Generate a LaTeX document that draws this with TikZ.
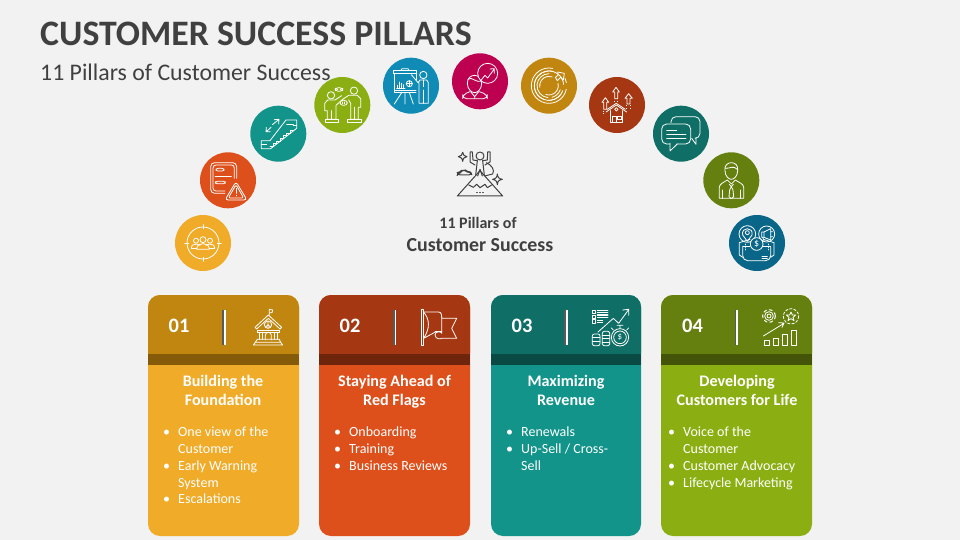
\documentclass[tikz,border=0pt]{standalone}
\usepackage{fontspec}
\setmainfont{Carlito}
\definecolor{bg}{HTML}{F2F2F2}
\definecolor{ink}{HTML}{404040}
\definecolor{cA}{HTML}{F0AB28}\definecolor{cAd}{HTML}{C0860F}\definecolor{cAb}{HTML}{855A08}
\definecolor{cB}{HTML}{DD4F1B}\definecolor{cBd}{HTML}{A53712}\definecolor{cBb}{HTML}{6E250C}
\definecolor{cC}{HTML}{12948A}\definecolor{cCd}{HTML}{0F6E66}\definecolor{cCb}{HTML}{0A4A45}
\definecolor{cD}{HTML}{8BAF12}\definecolor{cDd}{HTML}{66800F}\definecolor{cDb}{HTML}{44550A}
\definecolor{cE}{HTML}{108BB5}\definecolor{cF}{HTML}{BE0050}\definecolor{cK}{HTML}{0A6688}
\tikzset{
 disc/.style={circle,minimum size=56pt,inner sep=0pt,fill=#1},
 il/.style={draw=white,line width=0.8pt,line join=round,line cap=round},
 dl/.style={draw=ink,line width=1pt,line join=round,line cap=round},
 za/.style={shift={(160,50)},scale=1/3},
 zb/.style={shift={(440,50)},scale=1/3},
 zc/.style={shift={(140,290)},scale=1/3},
 zd/.style={shift={(480,290)},scale=1/3},
 head/.style={text=white,font=\fontsize{16.1}{16}\selectfont\bfseries,anchor=base,inner sep=0pt},
 num/.style={text=white,font=\fontsize{20.5}{20}\selectfont\bfseries,anchor=center,inner sep=0pt},
 bl/.style={text=white,font=\fontsize{14}{14}\selectfont,anchor=base west,inner sep=0pt},
}
\newcommand{\pillarcard}[7]{% name, x0, x1, light, dark, band, divider x
 \fill[#4,rounded corners=12pt] (#2,295) rectangle (#3,536);
 \fill[#5,rounded corners=12pt] (#2,365) -- (#2,295) -- (#3,295) -- (#3,365) -- cycle;
 \fill[#6] (#2,354) rectangle (#3,365);
 \fill[#4] (#2,365) rectangle (#3,380);
 \fill[black!65] (#7-1.6,310) rectangle (#7,345);
 \fill[white] (#7,310) rectangle (#7+1.6,345);
}
\begin{document}
\begin{tikzpicture}[x=1pt,y=-1pt]
\useasboundingbox (0,0) rectangle (960,540);
\fill[bg] (0,0) rectangle (960,540);
\node[anchor=base west,inner sep=0pt,text=ink,font=\fontsize{35.8}{36}\selectfont\bfseries] (title) at (40,46) {CUSTOMER SUCCESS PILLARS};
\node[anchor=base west,inner sep=0pt,text=ink,font=\fontsize{23.8}{24}\selectfont] (sub) at (40,80.5) {11 Pillars of Customer Success};
% discs
\node[disc=cA] (p1) at (203,243) {};
\node[disc=cB] (p2) at (228,180.3) {};
\node[disc=cC] (p3) at (278.3,133.7) {};
\node[disc=cD] (p4) at (342.3,105) {};
\node[disc=cE] (p5) at (411,85.7) {};
\node[disc=cF] (p6) at (480,81.3) {};
\node[disc=cAd] (p7) at (549,85.7) {};
\node[disc=cBd] (p8) at (617,105) {};
\node[disc=cCd] (p9) at (681,133.7) {};
\node[disc=cDd] (p10) at (731.3,180.3) {};
\node[disc=cK] (p11) at (757,243) {};
% icon 1
\begin{scope}[za,il]
 \draw (129,579) circle (48);
 \draw (129,524)--(129,536) (129,622)--(129,634) (74,579)--(86,579) (172,579)--(184,579);
 \draw (108,572) circle (7.5) (150,572) circle (7.5) (129,569) circle (9);
 \draw (94,596) .. controls (94,584) and (102,582) .. (110,582) .. controls (116,582) and (118,584) .. (120,586);
 \draw (164,596) .. controls (164,584) and (156,582) .. (148,582) .. controls (142,582) and (140,584) .. (138,586);
 \draw (94,596)--(110,596) (164,596)--(148,596);
 \draw (110,598) .. controls (110,585) and (120,581) .. (129,581) .. controls (138,581) and (148,585) .. (148,598) -- cycle;
\end{scope}
% icon 2
\begin{scope}[za,il]
 \draw[rounded corners=4pt] (195,430)--(152,430)--(152,338)--(230,338)--(230,385);
 \draw[rounded corners=3pt] (195,423)--(159,423)--(159,345)--(223,345)--(223,385);
 \draw[rounded corners=2pt] (168,355) rectangle (192,363);
 \draw (165,380)--(214,380);
 \draw[rounded corners=2pt] (166,394) rectangle (196,401);
 \draw[rounded corners=3pt] (228,395)--(261,450)--(195,450)--cycle;
 \draw[rounded corners=2pt] (228,404)--(251,444)--(205,444)--cycle;
 \draw (228,415)--(228,430) (228,436)--(228,438);
\end{scope}
% icon 3
\begin{scope}[za,il]
 \draw (304,272)--(304,296)--(332,296)--(410,235)--(410,210)--(378,210)--(330,272)--cycle;
 \draw (304,284)--(320,284) (400,225)--(410,225) (380,222)--(400,222);
 \draw (330,288)--(340,288)--(340,281)--(350,281)--(350,273)--(360,273)--(360,265)--(370,265)--(370,257)--(380,257)--(380,249)--(390,249)--(390,240)--(400,240);
 \draw (337,224)--(356,209) (343,209)--(357,208)--(356,222);
 \draw (319,245)--(333,232) (319,232)--(318,245)--(331,245);
\end{scope}
% icon 4
\begin{scope}[za,il]
 \draw (513,136) circle (11) (582,122) circle (11);
 \draw (545,137)--(525,150)--(503,150)--(494,160)--(494,182)--(502,182)--(502,208)--(528,208)--(528,166)--(548,148)--(566,136)--(592,136)--(602,146)--(602,172)--(595,172)--(595,208)--(572,208)--(572,160)--(566,150);
 \draw (515,182)--(515,208) (583,172)--(583,208);
 \draw (496,208) rectangle (534,217) (562,208) rectangle (604,217);
 \draw[rounded corners=3pt] (526,113) rectangle (548,124);
 \draw (531,118)--(533,118) (541,118)--(543,118);
 \draw[rounded corners=3pt] (540,151) rectangle (562,166);
 \draw (548,156)--(548,161) (554,156)--(554,161);
\end{scope}
% icon 5
\begin{scope}[za,il]
 \draw (700,62) rectangle (768,70);
 \draw (722,62)--(726,56)--(744,56)--(748,62);
 \draw (704,70)--(704,128)--(768,128);
 \draw (768,70)--(768,90);
 \draw (704,122)--(768,122);
 \draw (712,106)--(712,116) (718,96)--(718,116) (724,100)--(724,116) (730,104)--(730,116);
 \draw (710,116)--(735,116);
 \draw (748,101) circle (9);
 \draw (748,92)--(748,110) (739,101)--(757,101);
 \draw (725,128)--(703,162) (735,128)--(735,162) (748,128)--(760,162);
 \draw (790,75) circle (11);
 \draw (754,74)--(774,98)--(777,98)--(777,160)--(805,160)--(805,98)--(800,90)--(780,90)--(774,98);
 \draw (791,90)--(791,110) (791,120)--(791,160);
\end{scope}
% icon 6
\begin{scope}[zb,il]
 \draw (82,100) .. controls (82,68) and (125,68) .. (125,100) .. controls (125,118) and (112,128) .. (104,128) .. controls (95,128) and (82,118) .. (82,100) -- cycle;
 \draw (84,88) .. controls (95,78) and (105,98) .. (124,94);
 \draw[rounded corners=4pt] (90,125)--(68,134)--(68,146)--(142,146)--(142,134)--(118,125);
 \draw (92,125)--(104,140)--(116,125) (104,140)--(104,146);
 \draw[fill=cF] (143,70) circle (30);
 \draw (122,92)--(135,76)--(143,84)--(162,58) (150,57)--(163,56)--(163,70);
\end{scope}
% icon 7
\begin{scope}[zb,il]
 \draw (327,107) ++(12:53) arc[start angle=12,end angle=282,radius=53];
 \draw (327,107) ++(35:44) arc[start angle=35,end angle=95,radius=44];
 \draw (327,107) ++(110:44) arc[start angle=110,end angle=285,radius=44];
 \draw (327,107) ++(20:36) arc[start angle=20,end angle=75,radius=36];
 \draw (327,107) ++(95:36) arc[start angle=95,end angle=270,radius=36];
 \draw (327,107) ++(-15:28) arc[start angle=-15,end angle=110,radius=28];
 \draw (327,107) ++(170:28) arc[start angle=170,end angle=290,radius=28];
 \draw (327,107) ++(350:53) arc[start angle=350,end angle=335,radius=53];
 \draw (327,107) ++(355:44) arc[start angle=355,end angle=20,radius=44];
 \draw (353,66)--(373,70)--(370,90)--(362,82)--(352,92)--(346,82)--(354,76)--cycle;
\end{scope}
% icon 8
\begin{scope}[zb,il]
 \draw (498,186)--(529,165)--(560,186);
 \draw (502,178)--(529,160)--(556,178);
 \draw (510,182)--(510,216)--(548,216)--(548,182);
 \draw (529,178) circle (5);
 \draw (518,200) rectangle (528,216) (533,198) rectangle (544,208);
 \draw (528,112)--(518,126)--(524,126)--(524,146)--(533,146)--(533,126)--(538,126)--cycle;
 \draw (496,143)--(486,157)--(491,157)--(491,178)--(500,178)--(500,157)--(506,157)--cycle;
 \draw (566,131)--(555,145)--(561,145)--(561,162)--(570,162)--(570,145)--(577,145)--cycle;
 \draw[dotted,line cap=butt] (491,182)--(491,198) (523,152)--(523,160) (533,152)--(533,158) (558,165)--(558,180) (570,166)--(570,182);
\end{scope}
% icon 9
\begin{scope}[zb,il]
 \draw[rounded corners=5pt] (693,218)--(693,200)--(780,200)--(780,265)--(768,265);
 \draw (755,265)--(768,283)--(768,265);
 \draw[rounded corners=5pt] (690,282)--(665,282)--(665,222)--(752,222)--(752,282)--(710,282);
 \draw (690,280)--(690,303)--(712,282);
 \draw (680,240)--(710,240) (680,253)--(738,253) (680,266)--(738,266);
\end{scope}
% icon 10
\begin{scope}[zb,il]
 \draw (855,362) .. controls (850,330) and (898,330) .. (893,362) .. controls (893,378) and (882,388) .. (874,388) .. controls (866,388) and (855,378) .. (855,362) -- cycle;
 \draw (856,355) .. controls (870,356) and (880,345) .. (892,358);
 \draw (838,445)--(838,412) .. controls (838,402) and (850,398) .. (862,390)--(874,402)--(886,390) .. controls (898,398) and (911,402) .. (911,412)--(911,445)--cycle;
 \draw (848,445)--(848,420) (901,445)--(901,420);
 \draw (868,403)--(874,410)--(880,403) (869,420)--(874,410)--(879,420)--(881,440)--(874,446)--(867,440)--(869,420);
\end{scope}
% icon 11
\begin{scope}[zb,il]
 \draw (922,552) circle (25) (980,552) circle (24);
 \draw (922,574)--(908,555) .. controls (902,530) and (942,530) .. (936,555) -- cycle;
 \draw (922,548) circle (6);
 \draw (965,546) rectangle (972,562) (972,546)--(992,536)--(992,570)--(972,562);
 \draw (992,545)--(998,545) (992,560)--(998,560) (968,562)--(972,572);
 \draw[rounded corners=5pt,fill=cK] (908,592)--(908,632)--(992,632)--(992,592);
 \draw (898,578)--(930,568) (1002,578)--(970,568);
 \draw (898,578)--(898,615)--(908,622) (1002,578)--(1002,615)--(992,622);
 \draw (908,590)--(930,590) (970,590)--(992,590);
 \draw[dash pattern=on 1pt off 1.5pt] (915,582)--(915,600) (985,582)--(985,600);
 \draw (966,626)--(982,626) (966,620)--(982,620);
 \draw[fill=cK] (950,582) circle (19);
 \node[text=white,font=\fontsize{10}{10}\selectfont,inner sep=0pt] (dollar) at (950,582) {\$};
\end{scope}
% centre icon
\begin{scope}[zb,dl]
 \draw (52,438)--(188,438)--(120,362)--cycle;
 \draw (86,405)--(100,412)--(110,403)--(120,413)--(135,403)--(142,413)--(155,405);
 \draw (110,428)--(112,428) (119,428)--(121,428) (128,428)--(130,428);
 \draw (107,376)--(112,332) (133,376)--(128,332);
 \draw (112,332)--(99,330)--(97,306)--(90,306)--(90,336)--(105,345);
 \draw (128,332)--(142,330)--(143,306)--(150,306)--(150,336)--(135,345);
 \draw (120,318) circle (12);
 \draw (113,378)--(120,358)--(127,378);
 \draw (139,338) .. controls (155,345) and (165,360) .. (158,372)--(134,378);
 \draw (68,307) .. controls (70,316) and (72,318) .. (81,320) .. controls (72,322) and (70,324) .. (68,334) .. controls (66,324) and (64,322) .. (55,320) .. controls (64,318) and (66,316) .. (68,307) -- cycle;
 \draw (172,372) .. controls (173,382) and (176,386) .. (187,388) .. controls (176,390) and (173,394) .. (172,404) .. controls (171,394) and (168,390) .. (158,388) .. controls (168,386) and (171,382) .. (172,372) -- cycle;
 \draw[rounded corners=3pt] (52,375)--(96,375)--(92,366)--(82,366)--(76,360)--(64,362)--(60,368)--(54,368)--cycle;
\end{scope}
\node[anchor=center,inner sep=0pt,text=ink,font=\fontsize{16}{16}\selectfont\bfseries] (c1) at (478,223) {11 Pillars of};
\node[anchor=center,inner sep=0pt,text=ink,font=\fontsize{19.9}{20}\selectfont\bfseries] (c2) at (480,245) {Customer Success};
% cards
\pillarcard{a}{148}{299}{cA}{cAd}{cAb}{224}
\pillarcard{b}{319}{470}{cB}{cBd}{cBb}{394.8}
\pillarcard{c}{491}{641}{cC}{cCd}{cCb}{566}
\pillarcard{d}{661}{812}{cD}{cDd}{cDb}{736.2}
\node[num] (n1) at (179,326) {01};
\node[num] (n2) at (350,326) {02};
\node[num] (n3) at (522,326) {03};
\node[num] (n4) at (692.5,326) {04};
% school
\begin{scope}[zc,il]
 \draw (388,76)--(388,58)--(398,60)--(396,68)--(388,68);
 \draw (345,112)--(385,75)--(425,112)--(420,117)--(385,85)--(350,117)--cycle;
 \draw (384,104) circle (11);
 \draw (384,93)--(384,115) (376,112)--(384,104)--(392,112);
 \draw (352,122)--(418,122)--(418,128)--(352,128)--cycle;
 \draw (358,128)--(358,148) (368,128)--(368,148) (402,128)--(402,148) (412,128)--(412,148);
 \draw (376,150)--(376,136) arc[start angle=180,end angle=360,radius=9]--(394,150);
 \draw (352,148)--(418,148)--(422,157)--(346,157)--cycle;
 \draw (346,157)--(340,165)--(428,165)--(422,157);
\end{scope}
% flag
\begin{scope}[zc,il]
 \draw (844,58) rectangle (851,167);
 \draw (851,66)--(895,66) .. controls (905,66) and (905,75) .. (905,85)--(950,85)--(935,115)--(950,145)--(905,145) (905,85)--(905,130) .. controls (905,123) and (885,123) .. (885,135) .. controls (885,148) and (905,148) .. (905,145);
 \draw (851,145)--(888,125) (851,66) .. controls (870,90) and (870,115) .. (851,145);
 \draw (885,125)--(905,125);
\end{scope}
% revenue
\begin{scope}[zd,il]
 \draw (337,61) rectangle (347,71) (337,75) rectangle (347,85) (337,89) rectangle (347,99);
 \draw (352,62)--(384,62) (352,67)--(384,67) (352,72)--(384,72) (352,77)--(384,77) (352,82)--(384,82) (352,91)--(368,91) (352,96)--(368,96);
 \draw (354,126)--(400,85)--(416,100)--(445,60) (428,60)--(446,58)--(446,76);
 \draw[rounded corners=2pt] (337,132) rectangle (360,167);
 \draw (337,143)--(360,143) (337,155)--(360,155);
 \draw[rounded corners=2pt] (367,124) rectangle (389,167);
 \draw (367,135)--(389,135) (367,146)--(389,146) (367,157)--(389,157);
 \draw (420,142) circle (26) (420,142) circle (19);
 \node[text=white,font=\fontsize{9}{9}\selectfont,inner sep=0pt] (dollar2) at (420,142) {\$};
 \draw (420,116)--(420,108) (411,106)--(429,106) (400,120)--(394,114) (440,120)--(446,114);
\end{scope}
% growth
\begin{scope}[zd,il]
 \draw (867,78) circle (13) (867,78) circle (6);
 \draw[dash pattern=on 3pt off 3pt,line width=1pt] (867,78) circle (19);
 \draw[dash pattern=on 2.5pt off 1.8pt] (933,79) circle (23);
 \draw (933,66)--(937,75)--(947,75)--(939,82)--(942,92)--(933,86)--(924,92)--(927,82)--(919,75)--(929,75)--cycle;
 \draw (850,138)--(912,100) (896,98)--(912,99)--(906,112);
 \draw (853,151) rectangle (867,166) (880,144) rectangle (895,166) (908,133) rectangle (923,166) (935,120) rectangle (950,166);
\end{scope}
% headings
\node[head] (h1a) at (223,386) {Building the};
\node[head] (h1b) at (223,405) {Foundation};
\node[head] (h2a) at (394.5,386) {Staying Ahead of};
\node[head] (h2b) at (394.5,405) {Red Flags};
\node[head] (h3a) at (566,386) {Maximizing};
\node[head] (h3b) at (566,405) {Revenue};
\node[head] (h4a) at (737,386) {Developing};
\node[head] (h4b) at (737,405) {Customers for Life};
% bullets
\node[bl] (b11d) at (163,436) {•};\node[bl] (b11) at (178,436) {One view of the};
\node[bl] (b12) at (178,453) {Customer};
\node[bl] (b13d) at (163,470) {•};\node[bl] (b13) at (178,470) {Early Warning};
\node[bl] (b14) at (178,487) {System};
\node[bl] (b15d) at (163,503) {•};\node[bl] (b15) at (178,503) {Escalations};
\node[bl] (b21d) at (334,436) {•};\node[bl] (b21) at (349,436) {Onboarding};
\node[bl] (b22d) at (334,453) {•};\node[bl] (b22) at (349,453) {Training};
\node[bl] (b23d) at (334,470) {•};\node[bl] (b23) at (349,470) {Business Reviews};
\node[bl] (b31d) at (506,436) {•};\node[bl] (b31) at (521,436) {Renewals};
\node[bl] (b32d) at (506,453) {•};\node[bl] (b32) at (521,453) {Up-Sell / Cross-};
\node[bl] (b33) at (521,470) {Sell};
\node[bl] (b41d) at (668,436) {•};\node[bl] (b41) at (683,436) {Voice of the};
\node[bl] (b42) at (683,453) {Customer};
\node[bl] (b43d) at (668,470) {•};\node[bl] (b43) at (683,470) {Customer Advocacy};
\node[bl] (b44d) at (668,487) {•};\node[bl] (b44) at (683,487) {Lifecycle Marketing};
\end{tikzpicture}
\end{document}
